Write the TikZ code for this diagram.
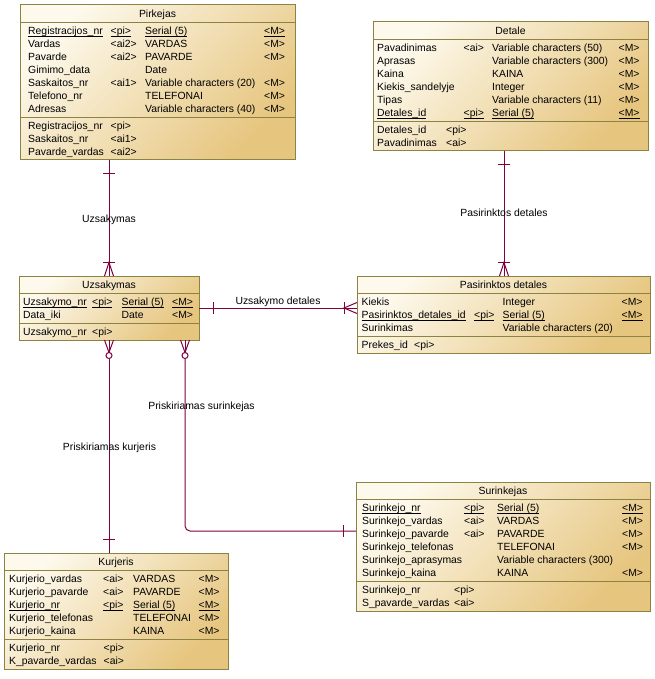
\documentclass[tikz,border=0pt]{standalone}
\usepackage{fontspec}
\setmainfont{Liberation Sans}
\definecolor{bordc}{RGB}{140,130,66}
\definecolor{relc}{RGB}{128,0,64}
\definecolor{fillA}{RGB}{253,249,236}
\definecolor{fillB}{RGB}{230,197,126}
\newcounter{tc}
\newcommand\fs{\fontsize{10.4pt}{12pt}\selectfont}
\newcommand\ul[1]{\setbox0\hbox{#1}\rlap{\rule[-2.4pt]{\wd0}{0.75pt}}\box0}
\newcommand\tx[3]{\if\relax\detokenize{#3}\relax\else\stepcounter{tc}\node[txt] (t\thetc) at (#1,{#2+3.8}) {#3};\fi}
\newcommand\row[5]{\tx{\cA}{#1}{#2}\tx{\cB}{#1}{#3}\tx{\cC}{#1}{#4}\tx{\cD}{#1}{#5}}
\newcommand\urow[5]{\row{#1}{\ul{#2}}{\ul{#3}}{\ul{#4}}{\ul{#5}}}
\newcommand\krow[3]{\tx{\cA}{#1}{#2}\tx{\cK}{#1}{#3}}
\newcommand\cols[5]{\def\cA{#1}\def\cB{#2}\def\cC{#3}\def\cD{#4}\def\cK{#5}}
\newcommand\ent[7]{%
 \pgfmathsetmacro\ew{#4-#2}\pgfmathsetmacro\eh{#6-#3}%
 \node[entity, minimum width=\ew pt, minimum height=\eh pt] (#1) at (#2,#3) {};
 \draw[bord] (#2,{#3+17.5}) -- (#4,{#3+17.5});
 \draw[bord] (#2,#5) -- (#4,#5);
 \pgfmathsetmacro\ex{(#2+#4)/2}%
 \node[ttl] (#1t) at (\ex,{#3+12.8}) {#7};
}
\tikzset{
 entity/.style={anchor=north west, draw=bordc, line width=1pt, top color=fillA, bottom color=fillB, shading angle=45, inner sep=0pt, outer sep=0pt},
 bord/.style={draw=bordc, line width=1pt},
 txt/.style={anchor=base west, inner sep=0pt, font=\fs, text=black},
 ttl/.style={anchor=base, inner sep=0pt, font=\fs, text=black},
 lbl/.style={anchor=base, inner sep=0pt, font=\fs, text=black},
 rel/.style={draw=relc, line width=1pt},
 opt/.style={draw=relc, line width=1pt, fill=white},
}
\begin{document}
\begin{tikzpicture}[x=1pt,y=-1pt]
\fill[white] (0,0) rectangle (654,679);
\useasboundingbox (0,0) rectangle (654,679);

% Pirkejas
\ent{pirk}{20}{5}{295}{117.5}{160}{Pirkejas}
\cols{28}{110.5}{145}{264}{110.5}
\urow{30.5}{Registracijos\_nr}{<pi>}{Serial (5)}{<M>}
\row{43.5}{Vardas}{<ai2>}{VARDAS}{<M>}
\row{56.5}{Pavarde}{<ai2>}{PAVARDE}{<M>}
\row{69.5}{Gimimo\_data}{}{Date}{}
\row{82.5}{Saskaitos\_nr}{<ai1>}{Variable characters (20)}{<M>}
\row{95.5}{Telefono\_nr}{}{TELEFONAI}{<M>}
\row{108.5}{Adresas}{}{Variable characters (40)}{<M>}
\krow{126}{Registracijos\_nr}{<pi>}
\krow{139}{Saskaitos\_nr}{<ai1>}
\krow{152}{Pavarde\_vardas}{<ai2>}

% Detale
\ent{det}{373}{22}{648}{121.5}{151}{Detale}
\cols{377}{463.5}{492}{618.5}{446}
\row{47.5}{Pavadinimas}{<ai>}{Variable characters (50)}{<M>}
\row{60.5}{Aprasas}{}{Variable characters (300)}{<M>}
\row{73.5}{Kaina}{}{KAINA}{<M>}
\row{86.5}{Kiekis\_sandelyje}{}{Integer}{<M>}
\row{99.5}{Tipas}{}{Variable characters (11)}{<M>}
\urow{112.5}{Detales\_id}{<pi>}{Serial (5)}{<M>}
\krow{130}{Detales\_id}{<pi>}
\krow{143}{Pavadinimas}{<ai>}

% Uzsakymas
\ent{uzs}{19}{276}{199}{323.5}{340}{Uzsakymas}
\cols{23}{92}{121.5}{172}{92}
\urow{301.5}{Uzsakymo\_nr}{<pi>}{Serial (5)}{<M>}
\row{314.5}{Data\_iki}{}{Date}{<M>}
\krow{332}{Uzsakymo\_nr}{<pi>}

% Pasirinktos detales
\ent{pas}{357}{276}{650}{336.5}{353}{Pasirinktos detales}
\cols{361.5}{474}{502.5}{621.5}{414}
\row{301.5}{Kiekis}{}{Integer}{<M>}
\urow{314.5}{Pasirinktos\_detales\_id}{<pi>}{Serial (5)}{<M>}
\row{327.5}{Surinkimas}{}{Variable characters (20)}{}
\krow{345}{Prekes\_id}{<pi>}

% Surinkejas
\ent{sur}{356}{482}{650}{581.5}{611}{Surinkejas}
\cols{362}{464}{497}{622}{454}
\urow{507.5}{Surinkejo\_nr}{<pi>}{Serial (5)}{<M>}
\row{520.5}{Surinkejo\_vardas}{<ai>}{VARDAS}{<M>}
\row{533.5}{Surinkejo\_pavarde}{<ai>}{PAVARDE}{<M>}
\row{546.5}{Surinkejo\_telefonas}{}{TELEFONAI}{<M>}
\row{559.5}{Surinkejo\_aprasymas}{}{Variable characters (300)}{}
\row{572.5}{Surinkejo\_kaina}{}{KAINA}{<M>}
\krow{590}{Surinkejo\_nr}{<pi>}
\krow{603}{S\_pavarde\_vardas}{<ai>}

% Kurjeris
\ent{kur}{4}{553}{228}{639.5}{669}{Kurjeris}
\cols{9}{103}{133}{198.5}{103.5}
\row{578.5}{Kurjerio\_vardas}{<ai>}{VARDAS}{<M>}
\row{591.5}{Kurjerio\_pavarde}{<ai>}{PAVARDE}{<M>}
\urow{604.5}{Kurjerio\_nr}{<pi>}{Serial (5)}{<M>}
\row{617.5}{Kurjerio\_telefonas}{}{TELEFONAI}{<M>}
\row{630.5}{Kurjerio\_kaina}{}{KAINA}{<M>}
\krow{648}{Kurjerio\_nr}{<pi>}
\krow{661}{K\_pavarde\_vardas}{<ai>}

% connector end points
\coordinate (c1a) at (109,160);
\coordinate (c1b) at (109,276);
\coordinate (c2a) at (504,151);
\coordinate (c2b) at (504,276);
\coordinate (c3a) at (199,308);
\coordinate (c3b) at (357,308);
\coordinate (c4a) at (109,340);
\coordinate (c4b) at (109,553);
\coordinate (c5a) at (185,340);
\coordinate (c5b) at (356,531);

% 1 Pirkejas - Uzsakymas
\draw[rel] (c1a) -- (c1b);
\draw[rel] ([shift={(-6,13)}]c1a) -- ([shift={(6,13)}]c1a);
\draw[rel] ([shift={(-6,-13.5)}]c1b) -- ([shift={(6,-13.5)}]c1b);
\draw[rel] ([shift={(-4.5,0)}]c1b) -- ([shift={(0,-13.5)}]c1b) -- ([shift={(4.5,0)}]c1b);
\node[lbl] (l1) at (109,222.8) {Uzsakymas};

% 2 Detale - Pasirinktos detales
\draw[rel] (c2a) -- (c2b);
\draw[rel] ([shift={(-6,14)}]c2a) -- ([shift={(6,14)}]c2a);
\draw[rel] ([shift={(-6,-13.5)}]c2b) -- ([shift={(6,-13.5)}]c2b);
\draw[rel] ([shift={(-4.5,0)}]c2b) -- ([shift={(0,-13.5)}]c2b) -- ([shift={(4.5,0)}]c2b);
\node[lbl] (l2) at (504,216.8) {Pasirinktos detales};

% 3 Uzsakymas - Pasirinktos detales
\draw[rel] (c3a) -- (c3b);
\draw[rel] ([shift={(14,-6)}]c3a) -- ([shift={(14,6)}]c3a);
\draw[rel] ([shift={(-13,-6)}]c3b) -- ([shift={(-13,6)}]c3b);
\draw[rel] ([shift={(0,-5.5)}]c3b) -- ([shift={(-13,0)}]c3b) -- ([shift={(0,5.5)}]c3b);
\node[lbl] (l3) at (278,304.8) {Uzsakymo detales};

% 4 Uzsakymas - Kurjeris
\draw[rel] ([shift={(-4.5,0)}]c4a) -- ([shift={(0,12.5)}]c4a) -- ([shift={(4.5,0)}]c4a);
\draw[rel] (c4a) -- ([shift={(0,12.5)}]c4a);
\draw[opt] ([shift={(0,15.5)}]c4a) circle (3pt);
\draw[rel] ([shift={(0,18.5)}]c4a) -- (c4b);
\draw[rel] ([shift={(-6,-13.5)}]c4b) -- ([shift={(6,-13.5)}]c4b);
\node[lbl] (l4) at (109.5,450.8) {Priskiriamas kurjeris};

% 5 Uzsakymas - Surinkejas
\draw[rel] ([shift={(-4.5,0)}]c5a) -- ([shift={(0,12.5)}]c5a) -- ([shift={(4.5,0)}]c5a);
\draw[rel] (c5a) -- ([shift={(0,12.5)}]c5a);
\draw[opt] ([shift={(0,15.5)}]c5a) circle (3pt);
\draw[rel, rounded corners=5pt] ([shift={(0,18.5)}]c5a) |- (c5b);
\draw[rel] ([shift={(-13,-6)}]c5b) -- ([shift={(-13,6)}]c5b);
\node[lbl] (l5) at (201.5,409.8) {Priskiriamas surinkejas};
\end{tikzpicture}
\end{document}
